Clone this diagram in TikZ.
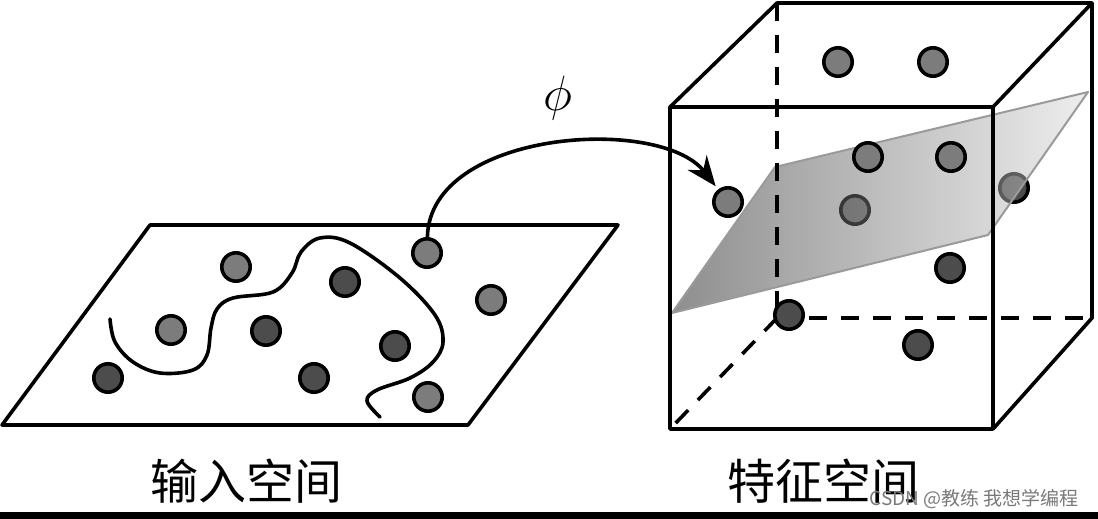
\documentclass[tikz,border=0pt]{standalone}
\usepackage{fontspec}
\usepackage{tikz}
\usetikzlibrary{arrows.meta,positioning}
\newfontfamily\cjk{Noto Sans CJK SC}
\definecolor{Ink}{HTML}{000000}
\definecolor{DotLight}{HTML}{7C7C7C}
\definecolor{DotDark}{HTML}{4C4C4C}
\definecolor{PlaneEdge}{HTML}{9A9A9A}
\definecolor{Mark}{HTML}{7A7A7A}

\begin{document}
\begin{tikzpicture}[x=0.5pt,y=-0.5pt,
  ball/.style={circle,draw=Ink,line width=1.8pt,minimum size=14.2pt,inner sep=0pt},
  solidline/.style={Ink,line width=1.8pt,line join=round},
  hidden/.style={Ink,line width=1.8pt,dash pattern=on 9pt off 7pt},
  spacename/.style={font=\cjk\fontsize{24}{28}\selectfont}]
  \useasboundingbox (0,0) rectangle (1098,519);
  \fill[white] (0,0) rectangle (1098,519);
  % input space
  \draw[solidline] (150,225) -- (618,225) -- (468,425) -- (2,425) -- cycle;
  \draw[solidline,line cap=round] plot[smooth,tension=0.6] coordinates {
    (110,319) (115,342) (133,362) (160,373) (193,370) (207,355) (211,328)
    (217,309) (233,298) (273,292) (292,273) (301,252) (320,238) (350,243)
    (400,278) (435,315) (443,342) (433,362) (410,378) (377,390) (367,401) (380,417)};
  \foreach \n/\x/\y/\c in {
    1/108/378/DotDark, 2/171/330/DotLight, 3/236/267/DotLight,
    4/266/331/DotDark, 5/345/282/DotDark, 6/314/378/DotDark,
    7/395/346/DotDark, 8/427/253/DotLight, 9/491/300/DotLight,
    10/428/397/DotLight} {
    \node[ball,fill=\c] (a\n) at (\x,\y) {};
  }
  % feature space, points behind the plane first
  \node[ball,fill=DotLight] (b9) at (855,210) {};
  \node[ball,fill=DotDark] (b10) at (1014,188) {};
  \shade[left color=black!88,right color=black!13,opacity=0.5]
    (672,313) -- (775,167) -- (1088,92) -- (988,235) -- cycle;
  \draw[PlaneEdge,line width=1pt,line join=round]
    (672,313) -- (775,167) -- (1088,92) -- (988,235) -- cycle;
  \coordinate (f1) at (670,107);
  \coordinate (f2) at (993,107);
  \coordinate (f3) at (993,429);
  \coordinate (f4) at (670,429);
  \coordinate (k1) at (777,3);
  \coordinate (k2) at (1092,3);
  \coordinate (k3) at (1092,318);
  \coordinate (k4) at (777,318);
  \draw[hidden] (k1) -- (k4);
  \draw[hidden] (k4) -- (k3);
  \draw[hidden] (k4) -- (f4);
  \draw[solidline] (f1) -- (f2) -- (f3) -- (f4) -- cycle;
  \draw[solidline] (f1) -- (k1) -- (k2) -- (f2);
  \draw[solidline] (k2) -- (k3) -- (f3);
  \foreach \n/\x/\y/\c in {
    1/838/62/DotLight, 2/933/62/DotLight, 3/868/157/DotLight,
    4/951/157/DotLight, 5/728/202/DotLight, 6/950/268/DotDark,
    7/789/315/DotDark, 8/918/345/DotDark} {
    \node[ball,fill=\c] (b\n) at (\x,\y) {};
  }
  % the map
  \draw[solidline,-{Stealth[length=15pt,width=12pt]},shorten >=2pt]
    (a8) .. controls (430,130) and (660,115) .. (b5);
  \node[font=\fontsize{25}{28}\selectfont] (map) at (558,98) {$\phi$};
  \node[spacename] (inlab) at (246,481) {输入空间};
  \node[spacename] (featlab) at (823,481) {特征空间};
  \node[font=\cjk\fontsize{9.5}{11}\selectfont,text=Mark,anchor=east] (mark) at (1086,499) {CSDN @教练 我想学编程};
  \fill[Ink] (0,512) rectangle (1098,519);
\end{tikzpicture}
\end{document}
